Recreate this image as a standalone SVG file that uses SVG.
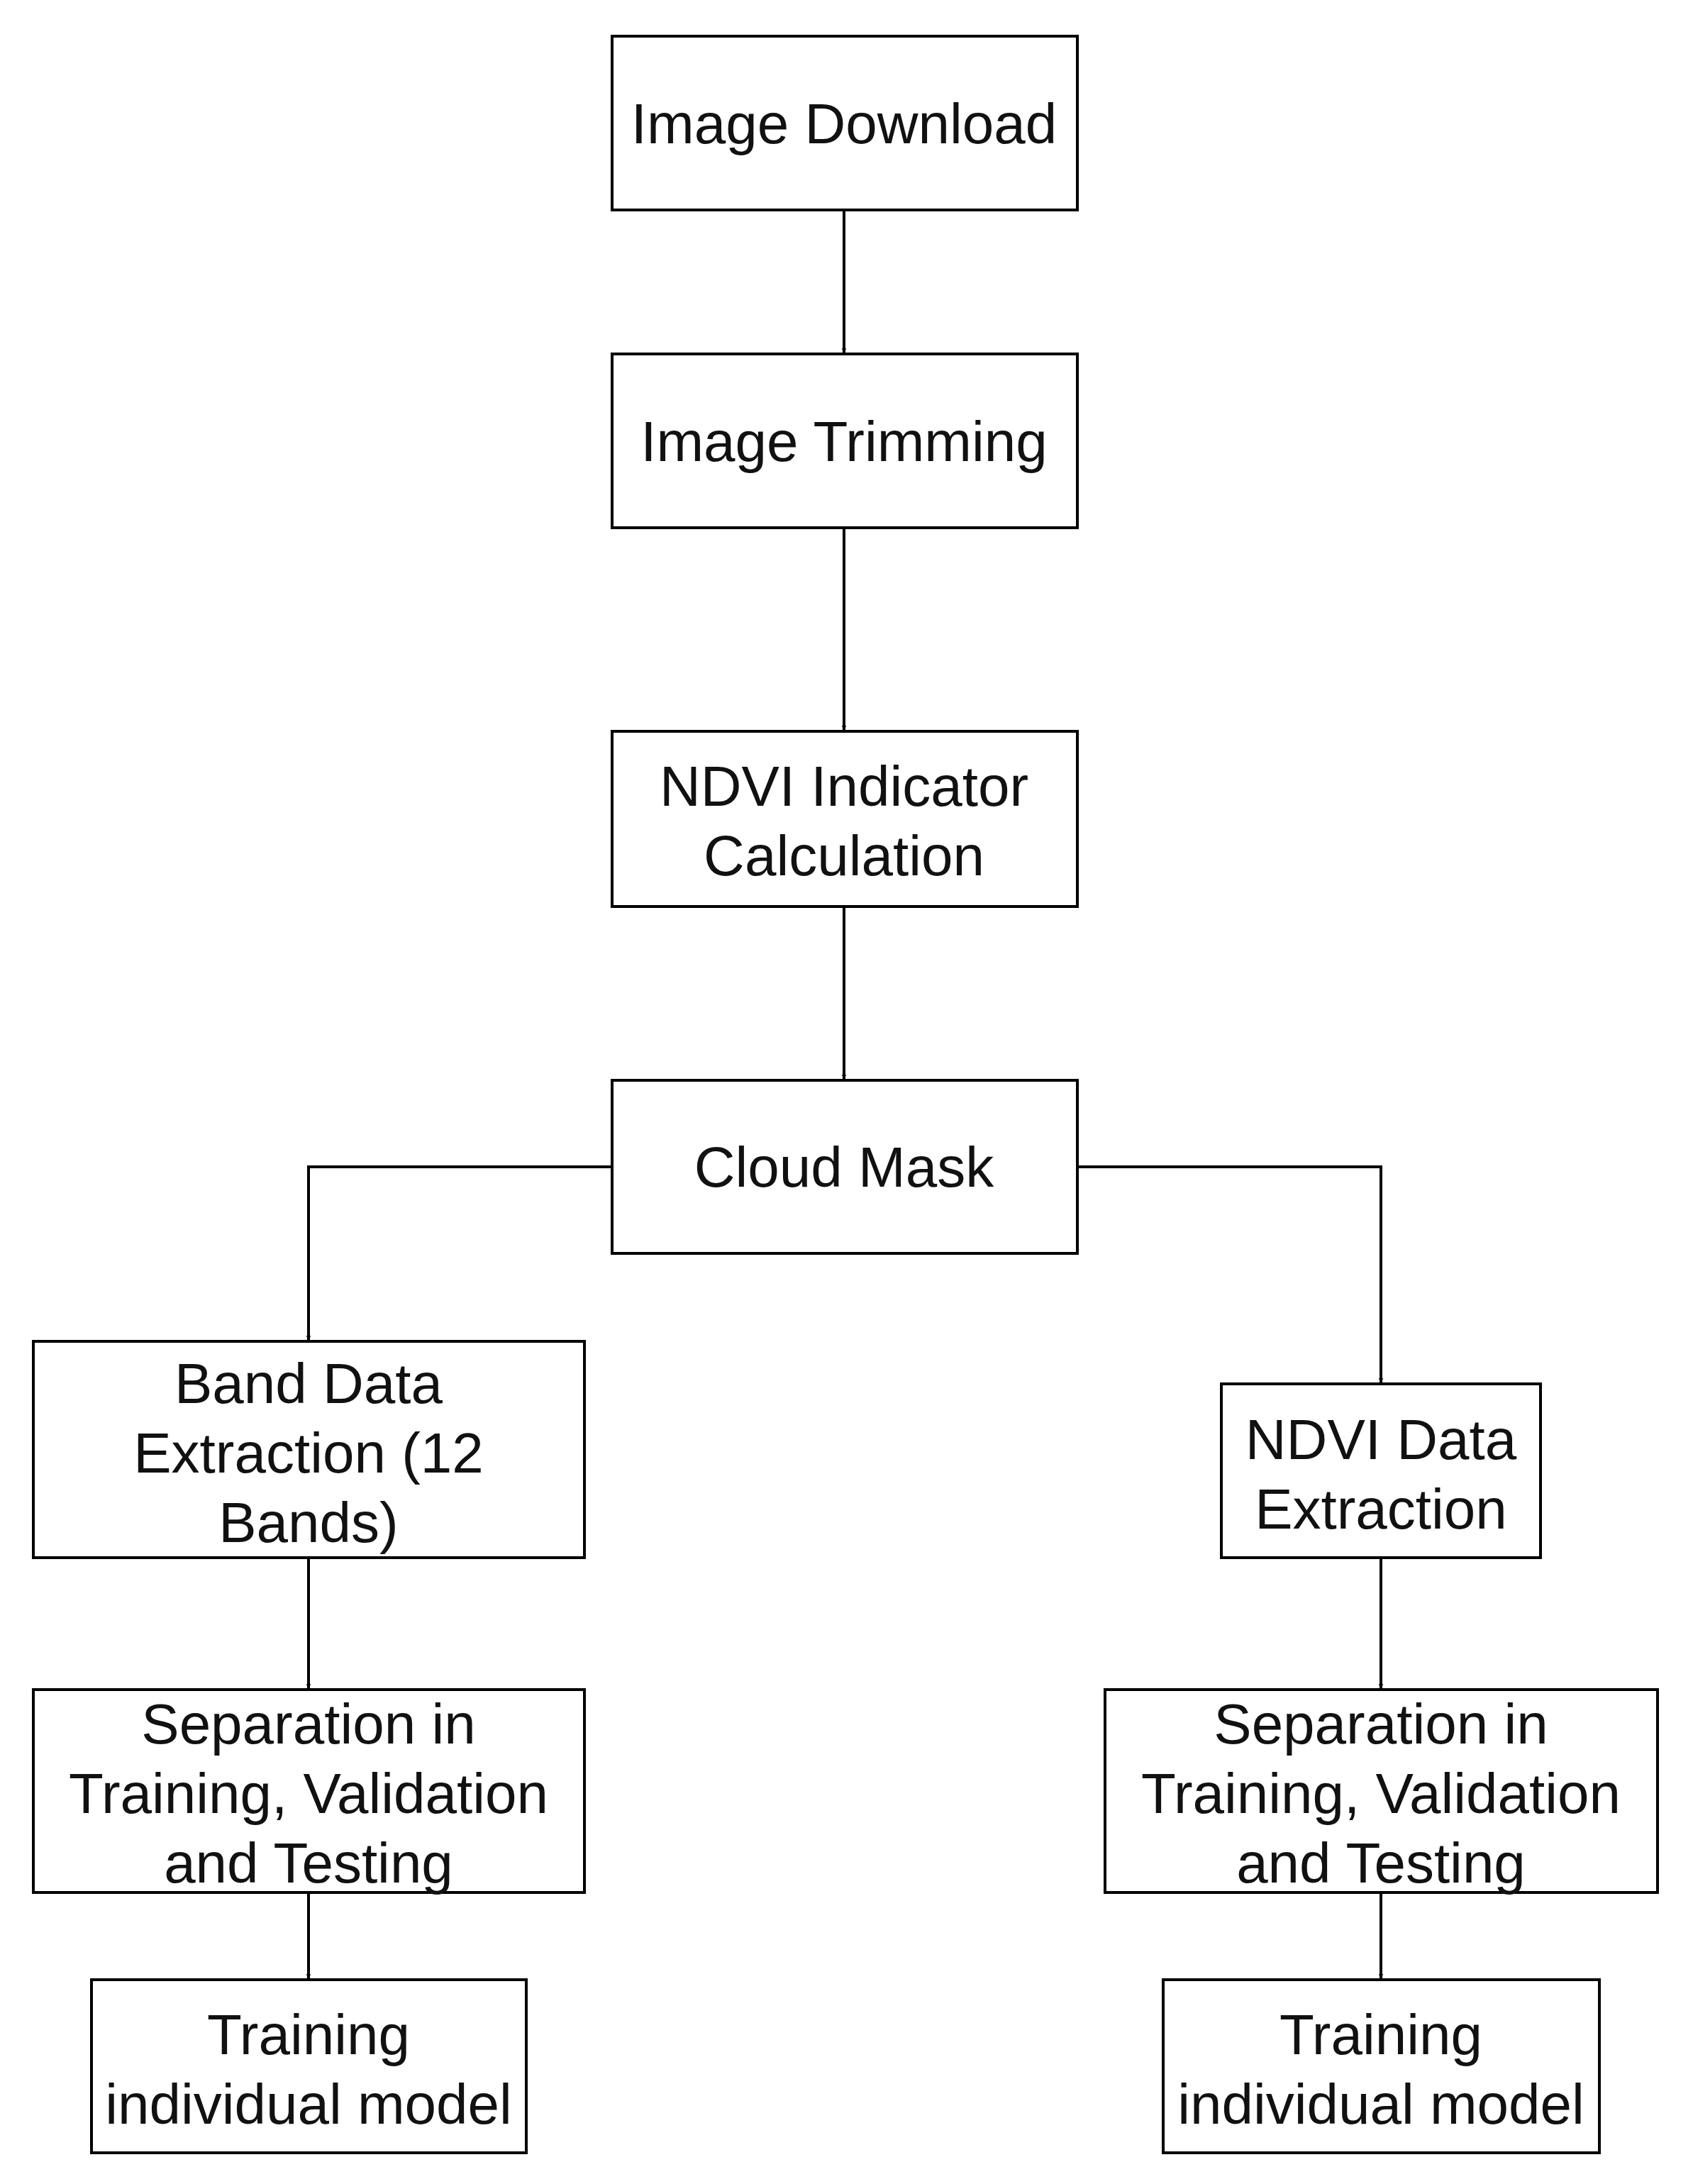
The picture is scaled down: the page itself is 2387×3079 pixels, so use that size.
<svg xmlns="http://www.w3.org/2000/svg" width="2387" height="3079" viewBox="0 0 2387 3079">
<style>
rect{fill:#fff;stroke:#000;stroke-width:4}
text{font-family:"Liberation Sans",Arial,sans-serif;font-size:80px;fill:#111;text-anchor:middle}
.c{fill:none;stroke:#000;stroke-width:4;marker-end:url(#a)}
</style>
<defs><marker id="a" viewBox="0 0 10 10" refX="9" refY="5" markerWidth="7" markerHeight="7" markerUnits="userSpaceOnUse" orient="auto"><path d="M0,0L10,5L0,10L3,5z" fill="#000"/></marker></defs>
<rect width="2387" height="3079" style="fill:#fff;stroke:none"/>
<g id="connectors">
<path class="c" d="M1190,296V497" transform="translate(0,0)"/>
<path class="c" d="M1190,744V1029"/>
<path class="c" d="M1190,1278V1521"/>
<path class="c" d="M863,1645H435V1889"/>
<path class="c" d="M1519,1645H1947V1949"/>
<path class="c" d="M435,2196V2380"/>
<path class="c" d="M1947,2196V2380"/>
<path class="c" d="M435,2668V2789"/>
<path class="c" d="M1947,2668V2789"/>
</g>
<g id="n1"><rect x="863" y="51" width="656" height="245"/><text x="1190" y="202">Image Download</text></g>
<g id="n2"><rect x="863" y="499" width="656" height="245"/><text x="1190" y="650">Image Trimming</text></g>
<g id="n3"><rect x="863" y="1031" width="656" height="247"/><text x="1190" y="1136">NDVI Indicator</text><text x="1190" y="1234">Calculation</text></g>
<g id="n4"><rect x="863" y="1523" width="656" height="244"/><text x="1190" y="1673">Cloud Mask</text></g>
<g id="n5"><rect x="47" y="1891" width="777" height="305"/><text x="435" y="1978">Band Data</text><text x="435" y="2076">Extraction (12</text><text x="435" y="2174">Bands)</text></g>
<g id="n6"><rect x="1722" y="1951" width="450" height="245"/><text x="1947" y="2057">NDVI Data</text><text x="1947" y="2155">Extraction</text></g>
<g id="n7"><rect x="47" y="2382" width="777" height="286"/><text x="435" y="2458">Separation in</text><text x="435" y="2556">Training, Validation</text><text x="435" y="2654">and Testing</text></g>
<g id="n8"><rect x="1558" y="2382" width="779" height="286"/><text x="1947" y="2458">Separation in</text><text x="1947" y="2556">Training, Validation</text><text x="1947" y="2654">and Testing</text></g>
<g id="n9"><rect x="129" y="2791" width="613" height="244"/><text x="435" y="2896">Training</text><text x="435" y="2994">individual model</text></g>
<g id="n10"><rect x="1640" y="2791" width="615" height="244"/><text x="1947" y="2896">Training</text><text x="1947" y="2994">individual model</text></g>
</svg>
